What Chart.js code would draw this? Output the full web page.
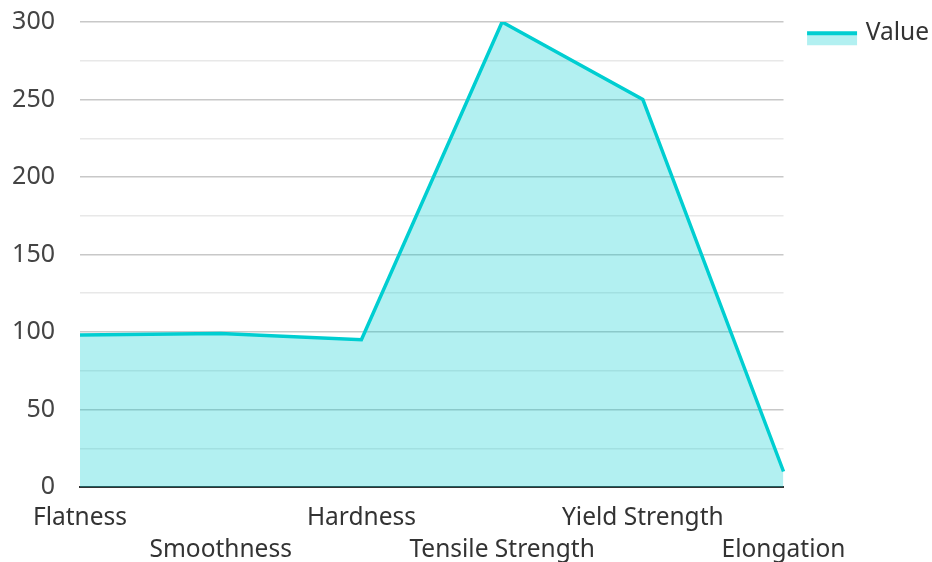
<!DOCTYPE html>
<html>
<head>
<meta charset="utf-8">
<script src="https://cdn.jsdelivr.net/npm/chart.js@4"></script>
<style>
  html, body { margin: 0; padding: 0; background: #fff; }
  #wrap { width: 932px; height: 562px; }
</style>
</head>
<body>
<div id="wrap"><canvas id="chart"></canvas></div>
<script>
const categories = ['Flatness', 'Smoothness', 'Hardness', 'Tensile Strength', 'Yield Strength', 'Elongation'];
const values = [98, 99, 95, 300, 250, 10];
const seriesName = 'Value';

const lineColor = '#00ced1';
const fillColor = 'rgba(0, 206, 209, 0.3)';

// legend icon: thick line on top, light fill below (shifted down a bit from text centre)
const icon = document.createElement('canvas');
icon.width = 60;
icon.height = 28;
const ictx = icon.getContext('2d');
ictx.fillStyle = fillColor;
ictx.fillRect(6, 12, 50, 14);
ictx.fillStyle = lineColor;
ictx.fillRect(6, 12, 50, 4);

Chart.defaults.font.family = '"Noto Sans", "Open Sans", sans-serif';
Chart.defaults.color = '#444';

const ctx = document.getElementById('chart').getContext('2d');
new Chart(ctx, {
  type: 'line',
  data: {
    labels: categories,
    datasets: [{
      label: seriesName,
      data: values,
      borderColor: lineColor,
      backgroundColor: fillColor,
      borderWidth: 3.5,
      fill: 'origin',
      tension: 0,
      pointRadius: 0,
      pointHoverRadius: 0
    }]
  },
  options: {
    responsive: true,
    maintainAspectRatio: false,
    animation: false,
    layout: { padding: { top: -4, right: -7, left: 13, bottom: 0 } },
    plugins: {
      legend: {
        position: 'right',
        align: 'start',
        labels: {
          usePointStyle: true,
          pointStyle: icon,
          pointStyleWidth: 45,
          color: '#333',
          font: { size: 24.5 },
          padding: 25
        }
      },
      tooltip: { enabled: false }
    },
    scales: {
      x: {
        offset: false,
        grid: { display: false, drawTicks: false },
        border: { display: true, color: '#333', width: 2 },
        ticks: {
          autoSkip: false,
          maxRotation: 0,
          minRotation: 0,
          padding: 15,
          color: '#333',
          font: { size: 24.5, lineHeight: 1.3 },
          callback: function(val, i) {
            const name = categories[i];
            return i % 2 === 0 ? name : ['', name];
          }
        },
        afterFit: scale => {
          scale.height = 75;
          scale.paddingLeft = 0;
          scale.paddingRight = 0;
        }
      },
      y: {
        min: 0,
        max: 300,
        border: { display: false },
        grid: {
          drawTicks: false,
          color: c => (c.tick.value % 50 === 0 ? '#c8c8c8' : '#e8e8e8'),
          lineWidth: 1.5
        },
        ticks: {
          stepSize: 25,
          padding: 25,
          color: '#444',
          font: { size: 25 },
          callback: v => (v % 50 === 0 ? v : '')
        },
        afterFit: scale => {
          scale.width = 67;
          scale.paddingTop = 22;
          scale.paddingBottom = 0;
        }
      }
    }
  }
});
</script>
</body>
</html>
